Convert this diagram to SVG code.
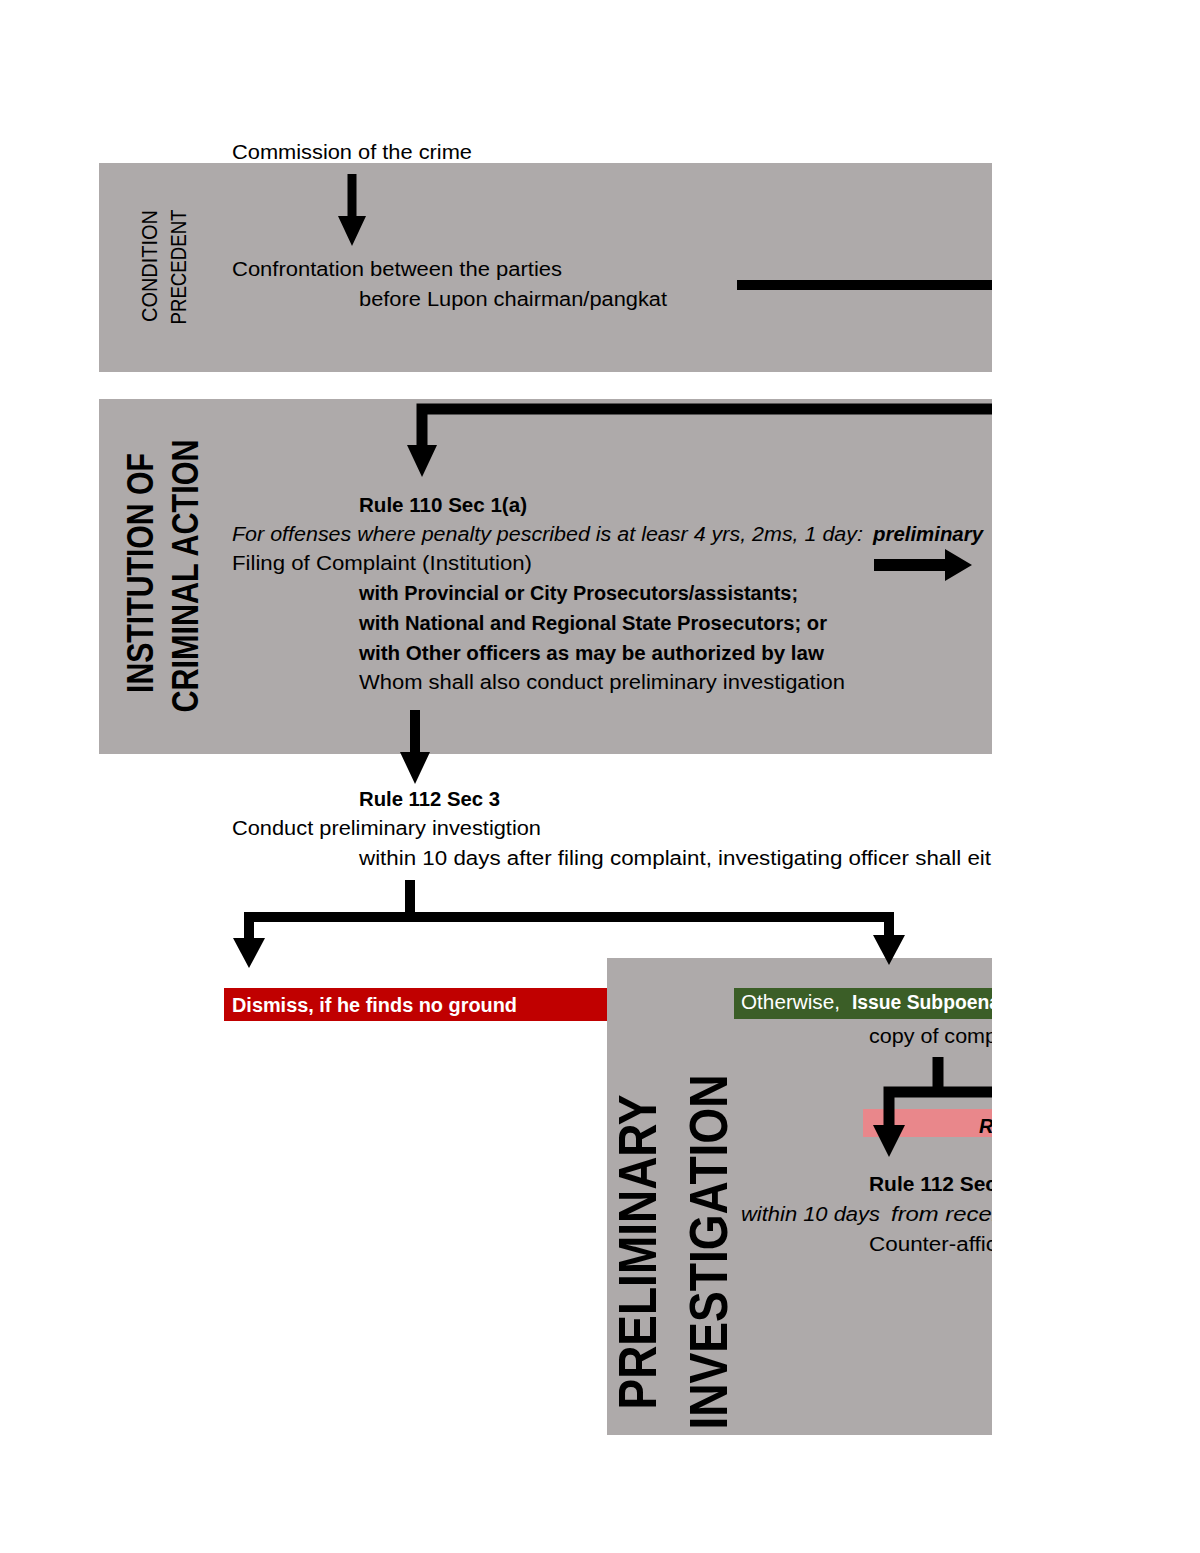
<svg xmlns="http://www.w3.org/2000/svg" width="1200" height="1553" viewBox="0 0 1200 1553">
<defs>
<clipPath id="pageclip"><rect x="0" y="0" width="992" height="1553"/></clipPath>
<style>
.panel{fill:#AEAAAA}
.t{font-family:"Liberation Sans",Arial,sans-serif;font-size:20px;fill:#000}
.b{font-weight:bold}
.i{font-style:italic}
.w{fill:#fff}
.lab{font-family:"Liberation Sans",Arial,sans-serif;fill:#000}
.ln{fill:none;stroke:#000;stroke-linejoin:miter;stroke-linecap:butt}
.hd{fill:#000}
</style>
</defs>
<rect width="1200" height="1553" fill="#fff"/>

<g clip-path="url(#pageclip)">
<g id="panel-condition">
<rect class="panel" x="99" y="163" width="893" height="209"/>
<text class="lab" font-size="22" text-anchor="middle" textLength="112" lengthAdjust="spacingAndGlyphs" transform="translate(157,266) rotate(-90)">CONDITION</text>
<text class="lab" font-size="22" text-anchor="middle" textLength="115" lengthAdjust="spacingAndGlyphs" transform="translate(186,267) rotate(-90)">PRECEDENT</text>
</g>

<g id="panel-institution">
<rect class="panel" x="99" y="399" width="893" height="355"/>
<text class="lab b" font-size="36" text-anchor="middle" textLength="240" lengthAdjust="spacingAndGlyphs" transform="translate(153,573) rotate(-90)">INSTITUTION OF</text>
<text class="lab b" font-size="36" text-anchor="middle" textLength="273" lengthAdjust="spacingAndGlyphs" transform="translate(198,576) rotate(-90)">CRIMINAL ACTION</text>
</g>

<g id="panel-preliminary">
<rect class="panel" x="607" y="958" width="385" height="477"/>
<text class="lab b" font-size="54" text-anchor="middle" textLength="315" lengthAdjust="spacingAndGlyphs" transform="translate(656,1252) rotate(-90)">PRELIMINARY</text>
<text class="lab b" font-size="54" text-anchor="middle" textLength="355" lengthAdjust="spacingAndGlyphs" transform="translate(727,1252) rotate(-90)">INVESTIGATION</text>
</g>

<g id="node-commission">
<text class="t" x="232" y="159" textLength="240" lengthAdjust="spacingAndGlyphs">Commission of the crime</text>
</g>

<g id="node-confrontation">
<text class="t" x="232" y="276" textLength="330" lengthAdjust="spacingAndGlyphs">Confrontation between the parties</text>
<text class="t" x="359" y="306" textLength="308" lengthAdjust="spacingAndGlyphs">before Lupon chairman/pangkat</text>
</g>

<g id="node-rule110">
<text class="t b" x="359" y="512" textLength="168" lengthAdjust="spacingAndGlyphs">Rule 110 Sec 1(a)</text>
<text class="t i" x="232" y="541" textLength="631" lengthAdjust="spacingAndGlyphs">For offenses where penalty pescribed is at leasr 4 yrs, 2ms, 1 day:</text>
<text class="t b i" x="873" y="541" textLength="110" lengthAdjust="spacingAndGlyphs">preliminary</text>
<text class="t" x="232" y="570" textLength="300" lengthAdjust="spacingAndGlyphs">Filing of Complaint (Institution)</text>
<text class="t b" x="359" y="600" textLength="439" lengthAdjust="spacingAndGlyphs">with Provincial or City Prosecutors/assistants;</text>
<text class="t b" x="359" y="630" textLength="468" lengthAdjust="spacingAndGlyphs">with National and Regional State Prosecutors; or</text>
<text class="t b" x="359" y="660" textLength="465" lengthAdjust="spacingAndGlyphs">with Other officers as may be authorized by law</text>
<text class="t" x="359" y="689" textLength="486" lengthAdjust="spacingAndGlyphs">Whom shall also conduct preliminary investigation</text>
</g>

<g id="node-rule112">
<text class="t b" x="359" y="806" textLength="141" lengthAdjust="spacingAndGlyphs">Rule 112 Sec 3</text>
<text class="t" x="232" y="835" textLength="309" lengthAdjust="spacingAndGlyphs">Conduct preliminary investigtion</text>
<text class="t" x="359" y="865" textLength="632" lengthAdjust="spacingAndGlyphs">within 10 days after filing complaint, investigating officer shall eit</text>
</g>

<g id="node-dismiss">
<rect x="224" y="988" width="383" height="33" fill="#C00000"/>
<text class="t b w" x="232" y="1012" textLength="285" lengthAdjust="spacingAndGlyphs">Dismiss, if he finds no ground</text>
</g>

<g id="node-subpoena">
<rect x="734" y="988" width="258" height="31" fill="#3B5E27"/>
<text class="t w" x="741" y="1009" textLength="99" lengthAdjust="spacingAndGlyphs">Otherwise,</text>
<text class="t b w" x="852" y="1009" textLength="148" lengthAdjust="spacingAndGlyphs">Issue Subpoena</text>
<text class="t" x="869" y="1043" textLength="128" lengthAdjust="spacingAndGlyphs">copy of comp</text>
</g>

<g id="node-pink">
<rect x="863" y="1109" width="129" height="28" fill="#E9878B"/>
<text class="t b i" x="979" y="1133">R</text>
</g>

<g id="node-counter">
<text class="t b" x="869" y="1191" textLength="128" lengthAdjust="spacingAndGlyphs">Rule 112 Sec</text>
<text class="t i" x="741" y="1221" textLength="139" lengthAdjust="spacingAndGlyphs">within 10 days</text>
<text class="t i" x="891" y="1221" textLength="106" lengthAdjust="spacingAndGlyphs">from recei</text>
<text class="t" x="869" y="1251" textLength="128" lengthAdjust="spacingAndGlyphs">Counter-affic</text>
</g>

<g id="connectors">
<path class="ln" stroke-width="9" d="M352,174 V218"/>
<polygon class="hd" points="338,216 366,216 352,246"/>
<path class="ln" stroke-width="10" d="M737,285 H992"/>
<path class="ln" stroke-width="11" d="M992,409 H422 V447"/>
<polygon class="hd" points="407,445 437,445 422,477"/>
<path class="ln" stroke-width="12" d="M874,565 H946"/>
<polygon class="hd" points="945,549 945,581 972,565"/>
<path class="ln" stroke-width="10" d="M415,710 V754"/>
<polygon class="hd" points="400,752 430,752 415,784"/>
<path class="ln" stroke-width="10" d="M410,880 V917"/>
<path class="ln" stroke-width="10" d="M249,940 V917 H889 V937"/>
<polygon class="hd" points="233,938 265,938 249,968"/>
<polygon class="hd" points="873,935 905,935 889,965"/>
<path class="ln" stroke-width="11" d="M938,1057 V1092"/>
<path class="ln" stroke-width="11" d="M992,1092 H889 V1127"/>
<polygon class="hd" points="873,1125 905,1125 889,1157"/>
</g>
</g>
</svg>
